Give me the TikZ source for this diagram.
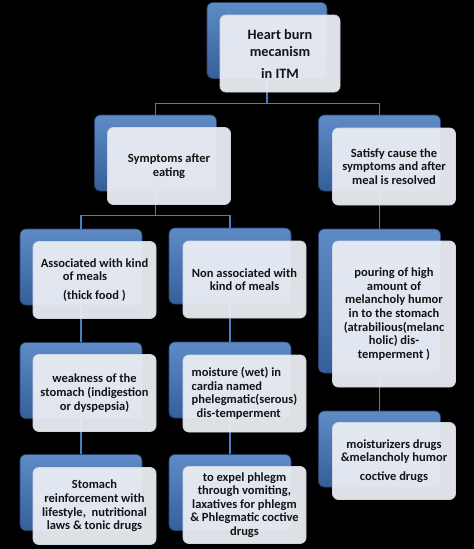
\documentclass[tikz,border=0pt]{standalone}
\usepackage{fontspec}
\setmainfont{Carlito}
\definecolor{linec}{HTML}{4A7EC0}
\definecolor{backtop}{HTML}{5E8BC6}
\definecolor{backbot}{HTML}{365F9A}
\definecolor{frontc}{HTML}{EBEEF4}
\definecolor{frontedge}{HTML}{CDD6E6}
\tikzset{
  backbox/.style={rounded corners=6pt, draw=backbot!70!black, line width=0.6pt,
    top color=backtop, bottom color=backbot, minimum width=122pt, minimum height=76pt, inner sep=0pt},
  frontbox/.style={rounded corners=6pt, draw=frontedge, line width=0.8pt, fill=frontc,
    fill opacity=0.94, text opacity=1, minimum width=123pt, minimum height=77pt,
    align=center, font=\fontsize{12.5}{13.6}\selectfont\bfseries, text=black!92, inner sep=1pt},
  conn/.style={draw=linec, line width=1.3pt}
}
\begin{document}
\begin{tikzpicture}[x=1pt,y=-1pt]
\fill[black] (0,0) rectangle (474,549);
\useasboundingbox (0,0) rectangle (474,549);
% back boxes
\node[backbox, minimum width=120pt] (b1) at (267,40.5) {};
\node[backbox] (b2) at (155.5,153) {};
\node[backbox] (b3) at (379.5,153) {};
\node[backbox] (b4) at (81,267) {};
\node[backbox] (b5) at (230,266) {};
\node[backbox, minimum height=144pt] (b6) at (379.5,301) {};
\node[backbox] (b7) at (81,380.5) {};
\node[backbox] (b8) at (230,380) {};
\node[backbox] (b9) at (379.5,449) {};
\node[backbox] (b10) at (81,492.5) {};
\node[backbox] (b11) at (230,492.5) {};
% connectors
\draw[conn] (b1.south) -- ++(0,25) coordinate (j1);
\draw[conn] (b2.north) |- (j1) -| (b3.north);
\draw[conn] (b2.south) -- ++(0,24) coordinate (j2);
\draw[conn] (b4.north) |- (j2) -| (b5.north);
\draw[conn] (b3.south) -- (b6.north);
\draw[conn] (b4.south) -- (b7.north);
\draw[conn] (b5.south) -- (b8.north);
\draw[conn] (b6.south) -- (b9.north);
\draw[conn] (b7.south) -- (b10.north);
\draw[conn] (b8.south) -- (b11.north);
% front boxes
\node[frontbox, minimum width=120pt, font=\fontsize{14.3}{17}\selectfont\bfseries] (f1) at (280,53.5) {Heart burn\\mecanism\\[5pt]in ITM};
\node[frontbox] (f2) at (169,166) {Symptoms after\\eating};
\node[frontbox] (f3) at (394,166.5) {Satisfy cause the\\symptoms and after\\meal is resolved};
\node[frontbox] (f4) at (94.5,280) {Associated with kind\\of meals\rule{19pt}{0pt}\\[5pt](thick food )};
\node[frontbox] (f5) at (244.5,279.5) {Non associated with\\kind of meals};
\node[frontbox, minimum height=146pt] (f6) at (394,314) {pouring of high\\amount of\\melancholy humor\\in to the stomach\\(atrabilious(melanc\\holic) dis-\\temperment )};
\node[frontbox] (f7) at (94.5,393) {weakness of the\\stomach (indigestion\\or dyspepsia)};
\node[frontbox, align=left] (f8) at (244.5,393.5) {moisture (wet) in\\cardia named\\phelegmatic(serous)\\\hspace*{5pt}dis-temperment};
\node[frontbox] (f9) at (394,461) {moisturizers drugs\\\&melancholy humor\\[5pt]coctive drugs};
\node[frontbox] (f10) at (94.5,506) {Stomach\\reinforcement with\\lifestyle,\ \ nutritional\\laws \& tonic drugs};
\node[frontbox] (f11) at (244.5,505) {to expel phlegm\\through vomiting,\\laxatives for phlegm\\\& Phlegmatic coctive\\drugs};
\end{tikzpicture}
\end{document}
